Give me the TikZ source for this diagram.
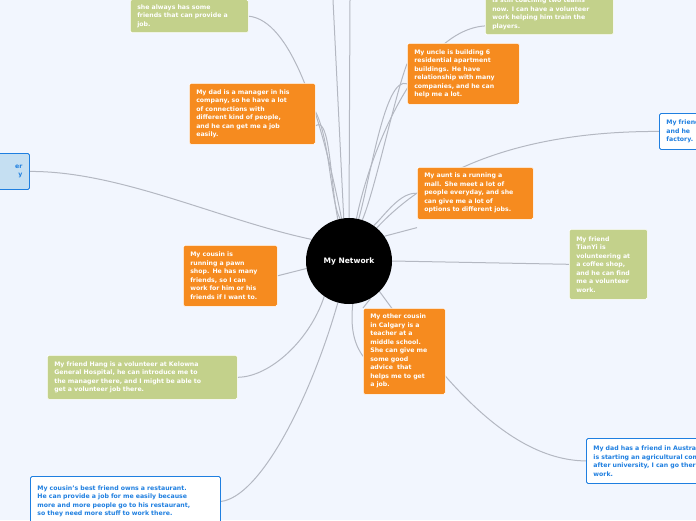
\documentclass[tikz,border=0pt]{standalone}
\usepackage{fontspec}
\setmainfont{DejaVu Sans}
\usetikzlibrary{backgrounds}
\definecolor{bg}{HTML}{F2F6FE}
\definecolor{org}{HTML}{F68B1F}
\definecolor{grn}{HTML}{C3D18B}
\definecolor{blu}{HTML}{1F7FE0}
\definecolor{lblu}{HTML}{C5DFF2}
\definecolor{lin}{HTML}{B4B8C2}
\begin{document}
\begin{tikzpicture}[x=1pt,y=-1pt,
  box/.style={align=left,inner xsep=7pt,inner ysep=5pt,rounded corners=1.5pt,font=\bfseries\fontsize{6.2}{8.5}\selectfont,text=white},
  ob/.style={box,anchor=north west,fill=org,draw=white,line width=0.6pt},
  gb/.style={box,anchor=north west,fill=grn,draw=white,line width=0.6pt},
  bb/.style={box,anchor=north west,fill=white,draw=blu,line width=0.9pt,text=blu},
  lk/.style={draw=lin,line width=1pt}]
\useasboundingbox (0,0) rectangle (696,520);
\clip (0,0) rectangle (696,520);
\node[circle,fill=black,minimum size=86pt,inner sep=0pt,text=white,font=\bfseries\fontsize{7.5}{8}\selectfont] (c) at (349,261) {My Network};
% boxes
\node[box,anchor=south west,fill=grn,draw=white,line width=0.6pt,text width=104pt] (g1) at (130,33) {she always has some\\friends that can provide a\\job.};
\node[ob,text width=112pt,minimum height=61pt] (dad) at (189,83) {My dad is a manager in his\\company, so he have a lot\\of connections with\\different kind of people,\\and he can get me a job\\easily.};
\node[box,anchor=north west,fill=lblu,draw=blu,line width=0.9pt,text=blu,text width=60pt,minimum height=36pt,align=right] (lb) at (-45,153) {er\\y};
\node[box,anchor=south west,fill=grn,draw=white,line width=0.6pt,text width=114pt] (g2) at (485,35) {is still coaching two teams\\now. I can have a volunteer\\work helping him train the\\players.};
\node[ob,text width=98pt,minimum height=61pt] (unc) at (407,43) {My uncle is building 6\\residential apartment\\buildings. He have\\relationship with many\\companies, and he can\\help me a lot.};
\node[bb,text width=80pt,minimum height=36pt] (rb) at (659,113) {My friend\\and he\\factory.};
\node[ob,text width=102pt,minimum height=52pt] (aunt) at (417,167) {My aunt is a running a\\mall. She meet a lot of\\people everyday, and she\\can give me a lot of\\options to different jobs.};
\node[gb,text width=64pt,minimum height=70pt] (tian) at (569,229) {My friend\\TianYi is\\volunteering at\\a coffee shop,\\and he can find\\me a volunteer\\work.};
\node[ob,text width=80pt,minimum height=61pt] (pawn) at (183,245) {My cousin is\\running a pawn\\shop. He has many\\friends, so I can\\work for him or his\\friends if I want to.};
\node[ob,text width=68pt,minimum height=86pt] (oc) at (363,308) {My other cousin\\in Calgary is a\\teacher at a\\middle school.\\She can give me\\some good\\advice\ \ that\\helps me to get\\a job.};
\node[gb,text width=176pt,minimum height=44pt] (hang) at (47,355) {My friend Hang is a volunteer at Kelowna\\General Hospital, he can introduce me to\\the manager there, and I might be able to\\get a volunteer job there.};
\node[bb,text width=140pt,minimum height=45pt] (aus) at (586,438) {My dad has a friend in Australia, he\\is starting an agricultural company,\\after university, I can go there to\\work.};
\node[bb,text width=176pt,minimum height=50pt] (rest) at (30,476) {My cousin's best friend owns a restaurant.\\He can provide a job for me easily because\\more and more people go to his restaurant,\\so they need more stuff to work there.};
\coordinate (t1) at (333,0);
\coordinate (t2) at (350,0);
\begin{scope}[on background layer]
\fill[bg] (0,0) rectangle (696,520);
\draw[lk] (c.100) .. controls (320,110) and (290,20) .. (g1.east);
\draw[lk] (c.105) .. controls (330,180) and (330,115) .. ([yshift=-12pt]dad.east);
\draw[lk] (c.102) .. controls (330,200) and (330,140) .. ([yshift=2pt]dad.east);
\draw[lk] (c.150) .. controls (220,220) and (120,171) .. ([yshift=0pt]lb.east);
\draw[lk] (c.97) -- (t1);
\draw[lk] (c.90) -- (t2);
\draw[lk] (c.80) .. controls (370,150) and (420,30) .. ([yshift=-12pt]g2.west);
\draw[lk] (c.77) .. controls (370,180) and (385,75) .. ([yshift=-10pt]unc.west);
\draw[lk] (c.72) .. controls (375,190) and (395,95) .. ([yshift=10pt]unc.west);
\draw[lk] (c.50) .. controls (440,160) and (540,131) .. (rb.west);
\draw[lk] (c.55) .. controls (385,215) and (400,192) .. ([yshift=0pt]aunt.west);
\draw[lk] (c.35) -- ([yshift=-8pt]aunt.south west);
\draw[lk] (c.0) -- (tian.west);
\draw[lk] (c.190) -- (pawn.east);
\draw[lk] (c.235) .. controls (310,340) and (270,377) .. (hang.east);
\draw[lk] (c.255) .. controls (310,400) and (260,497) .. (rest.east);
\draw[lk] (c.300) -- (oc.north west);
\draw[lk] (c.275) .. controls (350,330) and (355,345) .. ([yshift=-5pt]oc.west);
\draw[lk] (c.315) .. controls (430,360) and (500,460) .. (aus.west);
\end{scope}
\end{tikzpicture}
\end{document}
